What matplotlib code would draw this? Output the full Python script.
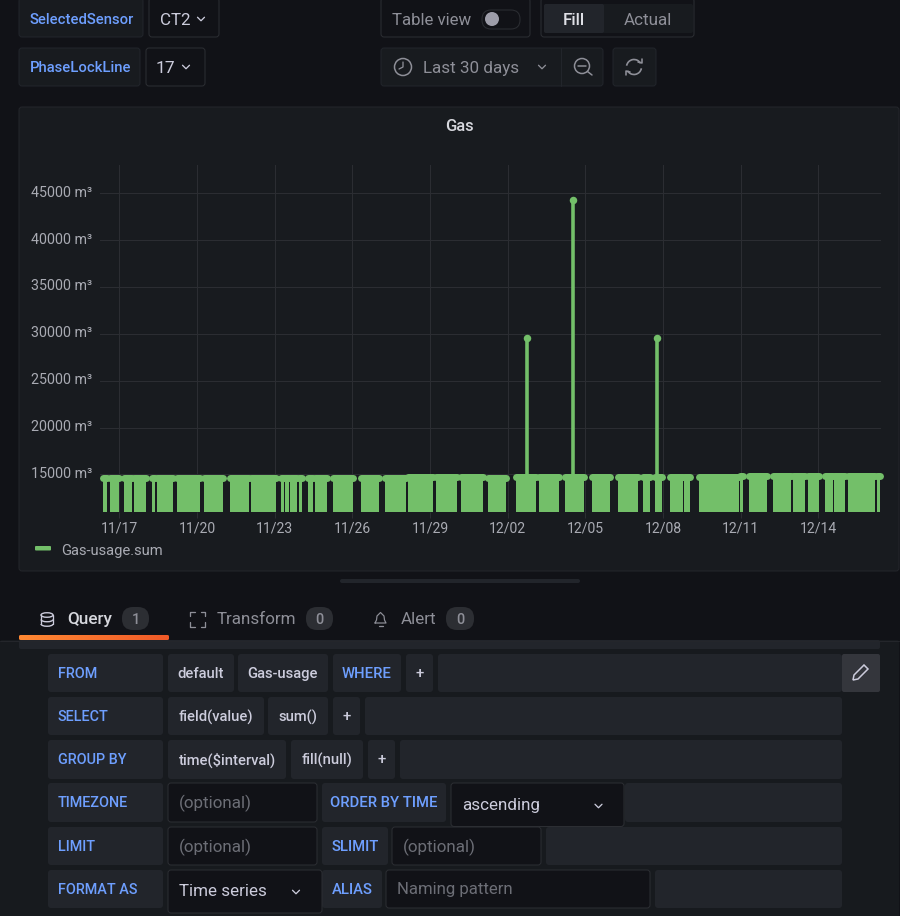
import numpy as np
import matplotlib
matplotlib.use('Agg')
import matplotlib.pyplot as plt
from matplotlib.patches import FancyBboxPatch, Circle, Ellipse, Arc, Polygon
from matplotlib.colors import LinearSegmentedColormap
from matplotlib.transforms import ScaledTranslation

plt.rcParams['font.family'] = ['Roboto', 'DejaVu Sans']

# chart data, x is days since 11/17
seg_start = [-0.62, -0.36, 0.20, 0.56, 1.26, 1.44, 2.22, 3.27, 4.27, 5.07, 6.26, 6.41, 6.59, 6.93,
             7.28, 7.54, 8.26, 9.35, 10.26, 11.15, 12.25, 13.21, 14.24, 15.32, 16.20, 17.21, 18.25,
             19.26, 20.22, 20.69, 21.27, 21.80, 22.39, 23.97, 24.32, 25.25, 26.02, 26.60, 27.26,
             27.59, 28.15, 29.28]
seg_end = [-0.49, -0.03, 0.49, 1.05, 1.38, 2.06, 3.11, 3.99, 5.01, 6.05, 6.37, 6.54, 6.87, 7.04,
           7.49, 8.01, 9.03, 10.04, 11.07, 12.10, 13.06, 14.03, 14.93, 16.11, 17.00, 17.95, 18.97,
           20.03, 20.49, 20.97, 21.76, 22.05, 23.92, 24.09, 25.00, 25.95, 26.49, 27.01, 27.57,
           28.04, 29.19, 29.37]
seg_level = [14640, 14640, 14640, 14640, 14640, 14640, 14640, 14640, 14640, 14640, 14640, 14640,
             14640, 14640, 14640, 14640, 14640, 14640, 14640, 14740, 14740, 14740, 14660, 14740,
             14740, 14740, 14740, 14740, 14740, 14740, 14740, 14740, 14740, 14850, 14850, 14850,
             14850, 14850, 14850, 14850, 14850, 14860]
spike_day = [15.75, 17.53, 20.76]
spike_from = [14740, 14740, 14740]
spike_value = [29510, 44320, 29510]
x_ticks = [0, 3, 6, 9, 12, 15, 18, 21, 24, 27]
x_labels = ['11/17', '11/20', '11/23', '11/26', '11/29', '12/02', '12/05', '12/08', '12/11', '12/14']
y_ticks = [15000, 20000, 25000, 30000, 35000, 40000, 45000]
y_labels = ['15000 m³', '20000 m³', '25000 m³', '30000 m³', '35000 m³', '40000 m³', '45000 m³']

GREEN = '#73BF69'
PAGE = '#111217'
PANEL = '#181b1f'
CHIP = '#22252b'
BORDER = '#2c2e33'
BLUE = '#6E9FFF'
TEXT = '#ccccdc'
MUTED = '#8e8f98'
HINT = '#6c6e76'

W, H = 900, 916
fig = plt.figure(figsize=(W / 100, H / 100), dpi=100, facecolor=PAGE)
ui = fig.add_axes([0, 0, 1, 1])
ui.set_axis_off()


def box(x0, y0, x1, y1, fc=CHIP, ec='none', r=3, lw=1, z=1):
    p = FancyBboxPatch((x0, y0), x1 - x0, y1 - y0, boxstyle='round,pad=0,rounding_size=%s' % r,
                       fc=fc, ec=ec, lw=lw * 0.72, zorder=z)
    ui.add_patch(p)


def txt(x, y, s, color=TEXT, px=14, weight='normal', ha='left'):
    ui.text(x, y, s, color=color, fontsize=px * 0.72, fontweight=weight, ha=ha,
            va='center_baseline', zorder=5)


def line(xs, ys, color=MUTED, lw=1.5):
    ui.plot(xs, ys, color=color, lw=lw * 0.72, zorder=5, solid_capstyle='round', solid_joinstyle='round')


def chevron(x, y, color=TEXT, s=3.5):
    line([x - s, x, x + s], [y - s / 2, y + s / 2, y - s / 2], color, 1.3)


# page parts behind the chart
box(0, 640, 899, 930, fc='#171a1e', r=2)
box(19, 107, 899, 571, fc=PANEL, ec='#24262b')

# top toolbar
box(19, -2, 143, 37, fc=PANEL, ec=CHIP)
txt(30, 19, 'SelectedSensor', BLUE, 14.8, 500)
box(149, -2, 219, 37, fc=PAGE, ec=BORDER)
txt(160, 19, 'CT2', TEXT, 17)
chevron(201, 19)
box(19, 48, 140, 86, fc=PANEL, ec=CHIP)
txt(30, 67, 'PhaseLockLine', BLUE, 14.8, 500)
box(146, 48, 205, 86, fc=PAGE, ec=BORDER)
txt(156, 67, '17', TEXT, 17.5)
chevron(186, 67)

box(381, -2, 530, 37, fc=PAGE, ec=BORDER)
txt(392, 19, 'Table view', MUTED, 16.9)
box(482, 10, 520, 29, fc=PAGE, ec=BORDER, r=9)
ui.add_patch(Circle((492, 19), 7, fc='#9d9da9', zorder=5))
box(541, -2, 694, 37, fc=PAGE, ec=BORDER)
box(544, 4, 693, 33, fc=PANEL, r=2)
box(544, 4, 604, 33, fc=CHIP, r=2, z=2)
txt(574, 19, 'Fill', '#dfe0e6', 17, 500, ha='center')
txt(648, 19, 'Actual', MUTED, 17, ha='center')

box(381, 48, 603, 86, fc=PANEL, ec=CHIP)
line([561, 561], [48, 86], CHIP, 1)
ui.add_patch(Circle((403, 67), 8.5, fc='none', ec=MUTED, lw=1.1, zorder=5))
line([403, 403, 399], [62, 67, 69], MUTED, 1.3)
txt(423, 67, 'Last 30 days', MUTED, 17)
chevron(542, 67, MUTED)
ui.add_patch(Circle((582, 66), 7.5, fc='none', ec=MUTED, lw=1.1, zorder=5))
line([578, 586], [66, 66], MUTED, 1.5)
line([587.5, 592], [71.5, 75], MUTED, 1.5)
box(613, 48, 656, 86, fc=PANEL, ec=CHIP)
ui.add_patch(Arc((634, 67), 15, 15, theta1=190, theta2=330, ec=MUTED, lw=1.2, zorder=5))
ui.add_patch(Arc((634, 67), 15, 15, theta1=10, theta2=150, ec=MUTED, lw=1.2, zorder=5))
line([638, 642, 642], [62, 63, 59], MUTED, 1.6)
line([626, 626, 630], [75, 71, 72], MUTED, 1.6)

# panel extras
txt(459.5, 125, 'Gas', '#d6d7dd', 16.5, 500, ha='center')
box(35, 546, 51, 550.5, fc=GREEN, r=1)
txt(61, 549, 'Gas-usage.sum', '#a9abb3', 14.7)
box(340, 579, 580, 583, fc=CHIP, r=2)

# tabs
ui.add_patch(Ellipse((47, 615), 12, 4.5, fc='none', ec=TEXT, lw=1, zorder=5))
line([41, 41], [615, 624], TEXT, 1.3)
line([53, 53], [615, 624], TEXT, 1.3)
ui.add_patch(Arc((47, 624), 12, 4.5, theta1=0, theta2=180, ec=TEXT, lw=1, zorder=5))
ui.add_patch(Arc((47, 619.5), 12, 4.5, theta1=0, theta2=180, ec=TEXT, lw=1, zorder=5))
txt(67.5, 618, 'Query', '#d6d7dd', 17.2, 500)
box(122, 607, 149, 630, fc='#2c2e33', r=11)
txt(135.5, 618.5, '1', MUTED, 14.5, 500, ha='center')

for dx, dy in [(-1, -1), (1, -1), (1, 1), (-1, 1)]:
    line([197.5 + dx * 7.5, 197.5 + dx * 7.5, 197.5 + dx * 3], [619 + dy * 3, 619 + dy * 7.5, 619 + dy * 7.5], MUTED, 1.3)
txt(217, 618, 'Transform', MUTED, 17)
box(306, 607, 333, 630, fc='#2c2e33', r=11)
txt(319.5, 618.5, '0', MUTED, 14.5, 500, ha='center')

line([375, 376.5, 377, 380.5, 384, 384.5, 386, 375], [623, 620, 616, 612.5, 616, 620, 623, 623], MUTED, 1.2)
line([378.5, 382.5], [626, 626], MUTED, 1.3)
txt(401, 618, 'Alert', MUTED, 17)
box(446, 607, 474, 630, fc='#2c2e33', r=11)
txt(460, 618.5, '0', MUTED, 14.5, 500, ha='center')

# orange underline
orange = LinearSegmentedColormap.from_list('tab', ['#FF8833', '#F05A28'])
ui.imshow(np.linspace(0, 1, 150).reshape(1, -1), cmap=orange, extent=(21, 167, 640, 635),
          aspect='auto', zorder=3)
box(19, 635, 22, 640, fc='#FF8833', r=1.5, z=3)
box(166, 635, 169, 640, fc='#F05A28', r=1.5, z=3)
line([0, 899], [640.5, 640.5], '#24262b', 1)
box(19, 640, 880, 649, fc=CHIP, r=2)

# query editor rows
rows = [(654, 692), (697, 735), (740, 779), (783, 822), (827, 865), (870, 908)]
row_names = ['FROM', 'SELECT', 'GROUP BY', 'TIMEZONE', 'LIMIT', 'FORMAT AS']
for (y0, y1), name in zip(rows, row_names):
    box(48, y0, 163, y1)
    txt(58, (y0 + y1) / 2 - 0.7, name, BLUE, 14.4, 500)


def chip(x0, x1, row, s=None, color=TEXT, weight=500):
    y0, y1 = rows[row]
    box(x0, y0, x1, y1)
    if s:
        txt((x0 + x1) / 2, (y0 + y1) / 2 - 0.7, s, color, 14.8, weight, ha='center')


def field(x0, x1, row, s, color=HINT, y1=None, px=17):
    y0, yb = rows[row]
    box(x0, y0, x1, y1 or yb, fc=PAGE, ec=BORDER)
    txt(x0 + 11, (y0 + (y1 or yb)) / 2 - 1, s, color, px)


chip(168, 234, 0, 'default')
chip(238, 328, 0, 'Gas-usage')
chip(333, 401, 0, 'WHERE', BLUE)
chip(406, 433, 0, '+')
chip(438, 842, 0)
box(842, 654, 880, 692, fc='#34363c', r=2, z=2)
ui.add_patch(Polygon([(853, 680), (854, 675), (864, 665), (868, 669), (858, 679)], closed=True,
                     fc='none', ec=TEXT, lw=1.1, zorder=5))
chip(168, 264, 1, 'field(value)')
chip(268, 328, 1, 'sum()')
chip(333, 360, 1, '+')
chip(365, 842, 1)
chip(168, 286, 2, 'time($interval)')
chip(291, 363, 2, 'fill(null)')
chip(368, 395, 2, '+')
chip(400, 842, 2)
field(168, 317, 3, '(optional)')
chip(322, 446, 3, 'ORDER BY TIME', BLUE)
field(451, 624, 3, 'ascending', TEXT, y1=826.5)
chevron(598.5, 806, TEXT)
chip(625, 842, 3)
field(168, 317, 4, '(optional)')
chip(322, 388, 4, 'SLIMIT', BLUE)
field(392, 541, 4, '(optional)')
chip(546, 842, 4)
chip(322, 382, 5, 'ALIAS', BLUE)
field(168, 322, 5, 'Time series', TEXT, y1=913)
chevron(296, 892, TEXT)
field(386, 650, 5, 'Naming pattern', px=16.7)
chip(655, 842, 5)

ui.set_xlim(0, W)
ui.set_ylim(H, 0)

# the Gas chart itself
ax = fig.add_axes([100 / W, 1 - 512 / H, 781 / W, 347 / H], facecolor='none')
x0_day = (100 - 119.3) / 25.89
x1_day = (881 - 119.3) / 25.89
y_bottom = 15000 - (512 - 474.4) / 46.85 * 5000
y_top = 45000 + (193.3 - 165) / 46.85 * 5000
for s, e, lvl in zip(seg_start, seg_end, seg_level):
    ax.fill_between([s, e], [lvl, lvl], y_bottom, color=GREEN, lw=0, zorder=3)
    ax.plot([s, e], [lvl, lvl], color=GREEN, lw=7 * 0.72, solid_capstyle='round', zorder=3, clip_on=False)
ax.vlines(spike_day, spike_from, spike_value, color=GREEN, lw=3.6 * 0.72, zorder=3)
ax.plot(spike_day, spike_value, 'o', color=GREEN, ms=7.5 * 0.72, mew=0, zorder=4)

ax.set_xlim(x0_day, x1_day)
ax.set_ylim(y_bottom, y_top)
ax.set_xticks(x_ticks)
ax.set_xticklabels(x_labels)
ax.set_yticks(y_ticks)
ax.set_yticklabels(y_labels)
ax.grid(True, color='#2b2d32', lw=0.72, zorder=1)
ax.set_axisbelow(True)
ax.tick_params(axis='x', length=4, width=0.72, color='#2b2d32', labelcolor='#a9abb3', labelsize=14 * 0.72, pad=2.5)
ax.tick_params(axis='y', length=0, labelcolor='#a9abb3', labelsize=14.2 * 0.72, pad=5.5)
up = ScaledTranslation(0, 2 / 100, fig.dpi_scale_trans)
for lab in ax.get_yticklabels():
    lab.set_transform(lab.get_transform() + up)
for sp in ax.spines.values():
    sp.set_visible(False)

fig.savefig('out.png', dpi=100, facecolor=PAGE)
